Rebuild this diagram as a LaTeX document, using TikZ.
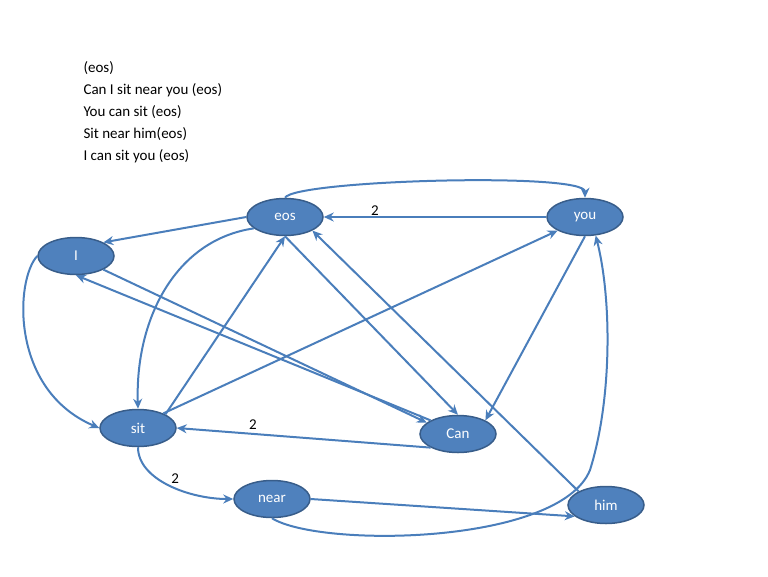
\documentclass[tikz,border=0pt]{standalone}
\usepackage{fontspec}
\setmainfont{Carlito}
\usetikzlibrary{shapes.geometric,arrows.meta}
\definecolor{nfill}{HTML}{4F81BD}
\definecolor{nline}{HTML}{385D8A}
\definecolor{eline}{HTML}{4A7EBB}
\begin{document}
\begin{tikzpicture}[x=1pt,y=-1pt,
  nd/.style={ellipse,fill=nfill,draw=nline,line width=1.5pt,minimum width=76pt,minimum height=37pt,inner sep=0pt,text=white,font=\fontsize{15}{18}\selectfont},
  ed/.style={draw=eline,line width=2pt,-{Stealth[length=10pt,width=9pt]}},
  lb/.style={font=\fontsize{15}{18}\selectfont}]
\useasboundingbox (0,0) rectangle (768,576);
\node[anchor=north west,align=left,font=\fontsize{15}{22}\selectfont] (txt) at (80,58) {(eos)\\Can I sit near you (eos)\\You can sit (eos)\\Sit near him(eos)\\I can sit you (eos)};
\node[nd] (eos) at (285,217) {eos};
\node[nd] (you) at (585,217) {you};
\node[nd] (I) at (76,256) {I};
\node[nd] (sit) at (138,428) {sit};
\node[nd] (Can) at (458,434) {Can};
\node[nd] (near) at (272,499) {near};
\node[nd] (him) at (606,505) {him};
\draw[ed] (eos.west) -- (I.north east);
\draw[ed] (you.west) -- node[lb,pos=0.77,above,yshift=-3pt,text=black]{2} (eos.east);
\draw[ed] (eos.north) .. controls (295,180) and (585,172) .. (you.north);
\draw[ed] (eos.200) .. controls (175,240) and (135,320) .. (sit.north);
\draw[ed] (sit.north east) -- (eos.south);
\draw[ed] (sit.30) -- (you.south west);
\draw[ed] (eos.south) -- (Can.north);
\draw[ed] (you.south) -- (Can.north east);
\draw[ed] (him.north west) -- (eos.south east);
\draw[ed] (I.south east) -- (Can.160);
\draw[ed] (Can.north west) -- (I.south);
\draw[ed] (I.west) .. controls (15,280) and (10,390) .. (sit.west);
\draw[ed] (Can.south west) -- node[lb,pos=0.7,above,text=black]{2} (sit.east);
\draw[ed] (sit.south) .. controls (138,480) and (190,499) .. node[lb,pos=0.55,above,text=black]{2} (near.west);
\draw[ed] (near.east) -- (him.200);
\draw[ed] (near.south) .. controls (320,548) and (560,545) .. (590,470) .. controls (612,400) and (612,300) .. (you.300);
\end{tikzpicture}
\end{document}
